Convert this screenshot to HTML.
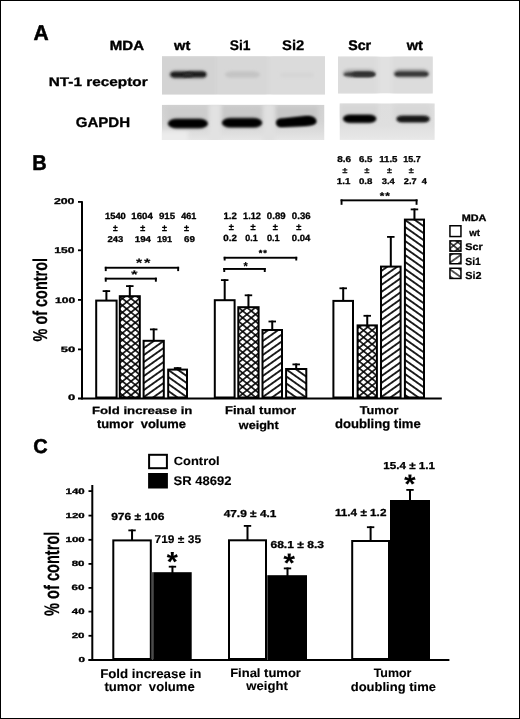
<!DOCTYPE html>
<html><head><meta charset="utf-8"><title>Figure</title>
<style>
html,body{margin:0;padding:0;background:#fff;}
svg{display:block;}
text{font-family:"Liberation Sans",Arial,sans-serif;font-weight:bold;fill:#000;stroke:#000;stroke-linejoin:round;white-space:pre;text-rendering:geometricPrecision;}
</style></head><body>
<svg width="520" height="719" viewBox="0 0 520 719">
<defs><pattern id="h1" patternUnits="userSpaceOnUse" width="40" height="5.362" patternTransform="translate(120.8 396.5) rotate(-39.007)"><rect x="0" y="0" width="40" height="0.775" fill="#000"/><rect x="0" y="4.587" width="40" height="0.775" fill="#000"/></pattern><pattern id="h2" patternUnits="userSpaceOnUse" width="40" height="5.362" patternTransform="translate(120.8 297.2) rotate(39.007)"><rect x="0" y="0" width="40" height="0.775" fill="#000"/><rect x="0" y="4.587" width="40" height="0.775" fill="#000"/></pattern><pattern id="h3" patternUnits="userSpaceOnUse" width="40" height="5.708" patternTransform="translate(144.6 396.5) rotate(-35.375)"><rect x="0" y="0" width="40" height="0.85" fill="#000"/><rect x="0" y="4.858" width="40" height="0.85" fill="#000"/></pattern><pattern id="h4" patternUnits="userSpaceOnUse" width="40" height="5.708" patternTransform="translate(169.2 370.6) rotate(35.375)"><rect x="0" y="0" width="40" height="0.85" fill="#000"/><rect x="0" y="4.858" width="40" height="0.85" fill="#000"/></pattern><pattern id="h5" patternUnits="userSpaceOnUse" width="40" height="5.362" patternTransform="translate(239.3 396.5) rotate(-39.007)"><rect x="0" y="0" width="40" height="0.775" fill="#000"/><rect x="0" y="4.587" width="40" height="0.775" fill="#000"/></pattern><pattern id="h6" patternUnits="userSpaceOnUse" width="40" height="5.362" patternTransform="translate(239.3 308.2) rotate(39.007)"><rect x="0" y="0" width="40" height="0.775" fill="#000"/><rect x="0" y="4.587" width="40" height="0.775" fill="#000"/></pattern><pattern id="h7" patternUnits="userSpaceOnUse" width="40" height="5.708" patternTransform="translate(263.5 396.5) rotate(-35.375)"><rect x="0" y="0" width="40" height="0.85" fill="#000"/><rect x="0" y="4.858" width="40" height="0.85" fill="#000"/></pattern><pattern id="h8" patternUnits="userSpaceOnUse" width="40" height="5.708" patternTransform="translate(287.1 370) rotate(35.375)"><rect x="0" y="0" width="40" height="0.85" fill="#000"/><rect x="0" y="4.858" width="40" height="0.85" fill="#000"/></pattern><pattern id="h9" patternUnits="userSpaceOnUse" width="40" height="5.362" patternTransform="translate(358.6 396.5) rotate(-39.007)"><rect x="0" y="0" width="40" height="0.775" fill="#000"/><rect x="0" y="4.587" width="40" height="0.775" fill="#000"/></pattern><pattern id="h10" patternUnits="userSpaceOnUse" width="40" height="5.362" patternTransform="translate(358.6 326.4) rotate(39.007)"><rect x="0" y="0" width="40" height="0.775" fill="#000"/><rect x="0" y="4.587" width="40" height="0.775" fill="#000"/></pattern><pattern id="h11" patternUnits="userSpaceOnUse" width="40" height="5.708" patternTransform="translate(382 396.5) rotate(-35.375)"><rect x="0" y="0" width="40" height="0.85" fill="#000"/><rect x="0" y="4.858" width="40" height="0.85" fill="#000"/></pattern><pattern id="h12" patternUnits="userSpaceOnUse" width="40" height="5.708" patternTransform="translate(405.9 220.6) rotate(35.375)"><rect x="0" y="0" width="40" height="0.85" fill="#000"/><rect x="0" y="4.858" width="40" height="0.85" fill="#000"/></pattern><pattern id="h13" patternUnits="userSpaceOnUse" width="40" height="5.362" patternTransform="translate(453.5 245.6) rotate(-39.007)"><rect x="0" y="0" width="40" height="0.65" fill="#000"/><rect x="0" y="4.712" width="40" height="0.65" fill="#000"/></pattern><pattern id="h14" patternUnits="userSpaceOnUse" width="40" height="5.362" patternTransform="translate(453.5 245.6) rotate(39.007)"><rect x="0" y="0" width="40" height="0.65" fill="#000"/><rect x="0" y="4.712" width="40" height="0.65" fill="#000"/></pattern><pattern id="h15" patternUnits="userSpaceOnUse" width="40" height="5.708" patternTransform="translate(455.6 258.6) rotate(-35.375)"><rect x="0" y="0" width="40" height="0.65" fill="#000"/><rect x="0" y="5.058" width="40" height="0.65" fill="#000"/></pattern><pattern id="h16" patternUnits="userSpaceOnUse" width="40" height="5.708" patternTransform="translate(455.6 273.4) rotate(35.375)"><rect x="0" y="0" width="40" height="0.65" fill="#000"/><rect x="0" y="5.058" width="40" height="0.65" fill="#000"/></pattern></defs>
<rect x="0" y="0" width="520" height="719" fill="#fff"/>
<defs>
 <filter id="bl1" x="-30%" y="-100%" width="160%" height="300%"><feGaussianBlur stdDeviation="1.1"/></filter>
 <filter id="bl2" x="-30%" y="-100%" width="160%" height="300%"><feGaussianBlur stdDeviation="0.65"/></filter>
 <filter id="bl3" x="-30%" y="-100%" width="160%" height="300%"><feGaussianBlur stdDeviation="2.2"/></filter>
 <filter id="bl4" x="-30%" y="-100%" width="160%" height="300%"><feGaussianBlur stdDeviation="1.7"/></filter>
 <filter id="bl5" x="-30%" y="-100%" width="160%" height="300%"><feGaussianBlur stdDeviation="0.85"/></filter>
 <linearGradient id="gg1" x1="0" y1="0" x2="0" y2="1">
   <stop offset="0" stop-color="#d2d2d2"/><stop offset="0.45" stop-color="#d4d4d4"/><stop offset="0.75" stop-color="#dcdcdc"/><stop offset="1" stop-color="#e6e6e6"/>
 </linearGradient>
 <linearGradient id="gg2" x1="0" y1="0" x2="0" y2="1">
   <stop offset="0" stop-color="#dedede"/><stop offset="0.6" stop-color="#dfdfdf"/><stop offset="1" stop-color="#e8e8e8"/>
 </linearGradient>
 <clipPath id="cb1"><rect x="162" y="56.3" width="163" height="38.2"/></clipPath>
 <clipPath id="cb2"><rect x="338" y="56.4" width="94.8" height="37.2"/></clipPath>
 <clipPath id="cb3"><rect x="161.8" y="104.7" width="162.7" height="35.3"/></clipPath>
 <clipPath id="cb4"><rect x="339.5" y="103.3" width="95.3" height="36.6"/></clipPath>
</defs>
<g clip-path="url(#cb1)">
<rect x="162" y="56.3" width="163" height="38.2" fill="#d9d9d9"/>
<rect x="158" y="54" width="60" height="45" fill="#d3d3d3" filter="url(#bl3)"/>
<rect x="218" y="54" width="50" height="45" fill="#d7d7d7" filter="url(#bl3)"/>
<rect x="270" y="54" width="58" height="45" fill="#dbdbdb" filter="url(#bl3)"/>
<path d="M176,70.1 H200.5 A7,4.5 0 0 1 200.5,79.1 H176 A7,4.5 0 0 1 176,70.1 Z" fill="#a0a0a0" filter="url(#bl4)"/>
<path d="M174.5,71.8 H185 A4,2.8 0 0 1 185,77.4 H174.5 A4,2.8 0 0 1 174.5,71.8 Z" fill="#1a1a1a" filter="url(#bl1)"/>
<path d="M190,71.6 H202.2 A4,2.8 0 0 1 202.2,77.2 H190 A4,2.8 0 0 1 190,71.6 Z" fill="#1a1a1a" filter="url(#bl1)"/>
<path d="M186,72.6 H190 A3,2.2 0 0 1 190,77 H186 A3,2.2 0 0 1 186,72.6 Z" fill="#2a2a2a" filter="url(#bl1)"/>
<path d="M232,71.35 H253 A7,3.25 0 0 1 253,77.85 H232 A7,3.25 0 0 1 232,71.35 Z" fill="#c4c4c4" filter="url(#bl4)"/>
<path d="M285,72.25 H309 A5,2.75 0 0 1 309,77.75 H285 A5,2.75 0 0 1 285,72.25 Z" fill="#d6d6d6" filter="url(#bl4)"/>
</g>
<g clip-path="url(#cb2)">
<rect x="338" y="56.4" width="94.8" height="37.2" fill="#e1e1e1"/>
<rect x="336" y="54" width="42" height="42" fill="#dbdbdb" filter="url(#bl3)"/>
<rect x="392" y="54" width="42" height="42" fill="#dcdcdc" filter="url(#bl3)"/>
<path d="M350.5,68.95 H368 A8,4.25 0 0 1 368,77.45 H350.5 A8,4.25 0 0 1 350.5,68.95 Z" fill="#b0b0b0" filter="url(#bl4)"/>
<path d="M351.5,72.1 H367.5 A8,2.3 0 0 1 367.5,76.7 H351.5 A8,2.3 0 0 1 351.5,72.1 Z" fill="#404040" filter="url(#bl1)"/>
<path d="M357,71.7 H370 A5,2.5 0 0 1 370,76.7 H357 A5,2.5 0 0 1 357,71.7 Z" fill="#303030" filter="url(#bl1)"/>
<path d="M400.5,68.95 H422 A7,4.25 0 0 1 422,77.45 H400.5 A7,4.25 0 0 1 400.5,68.95 Z" fill="#a0a0a0" filter="url(#bl4)"/>
<path d="M399.5,71.4 H423.5 A5,2.6 0 0 1 423.5,76.6 H399.5 A5,2.6 0 0 1 399.5,71.4 Z" fill="#363636" filter="url(#bl1)"/>
</g>
<g clip-path="url(#cb3)">
<rect x="161.8" y="104.7" width="162.7" height="35.3" fill="url(#gg1)"/>
<rect x="166" y="106" width="44" height="14" fill="#cdcdcd" filter="url(#bl3)"/>
<rect x="220" y="106" width="44" height="14" fill="#c8c8c8" filter="url(#bl3)"/>
<rect x="274" y="106" width="44" height="14" fill="#c6c6c6" filter="url(#bl3)"/>
<rect x="209" y="103" width="12" height="40" fill="#e2e2e2" filter="url(#bl3)"/>
<rect x="263" y="103" width="12" height="40" fill="#e0e0e0" filter="url(#bl3)"/>
<rect x="158" y="131" width="30" height="14" fill="#ececec" filter="url(#bl3)"/>
<path d="M176.8,118.15 H199 A9,5.25 0 0 1 199,128.65 H176.8 A9,5.25 0 0 1 176.8,118.15 Z" fill="#707070" filter="url(#bl4)"/>
<path d="M230.8,117.55 H253.3 A9,5.25 0 0 1 253.3,128.05 H230.8 A9,5.25 0 0 1 230.8,117.55 Z" fill="#707070" filter="url(#bl4)"/>
<path d="M176.3,119.2 H199.5 A8,4.3 0 0 1 199.5,127.8 H176.3 A8,4.3 0 0 1 176.3,119.2 Z" fill="#000" filter="url(#bl5)"/>
<path d="M230.3,118.5 H253.8 A8,4.3 0 0 1 253.8,127.1 H230.3 A8,4.3 0 0 1 230.3,118.5 Z" fill="#000" filter="url(#bl5)"/>
<path d="M276.3,122.9 C276.3,119.6 279,118.8 283,118.6 L306,116.0 C313,115.6 316.6,118.5 316.3,121.8 C316,124.6 311,125.7 305,125.9 L283,127.0 C279,127.1 276.3,126 276.3,122.9 Z" fill="#707070" filter="url(#bl4)"/>
<path d="M276.3,122.9 C276.3,119.6 279,118.8 283,118.6 L306,116.0 C313,115.6 316.6,118.5 316.3,121.8 C316,124.6 311,125.7 305,125.9 L283,127.0 C279,127.1 276.3,126 276.3,122.9 Z" fill="#000" filter="url(#bl5)"/>
</g>
<g clip-path="url(#cb4)">
<rect x="339.5" y="103.3" width="95.3" height="36.6" fill="url(#gg2)"/>
<rect x="340" y="104" width="38" height="16" fill="#d6d6d6" filter="url(#bl3)"/>
<rect x="393" y="104" width="38" height="16" fill="#d8d8d8" filter="url(#bl3)"/>
<path d="M350.8,114.3 H368.5 A8,4.5 0 0 1 368.5,123.3 H350.8 A8,4.5 0 0 1 350.8,114.3 Z" fill="#808080" filter="url(#bl4)"/>
<path d="M403.2,115.1 H422.9 A7,3.9 0 0 1 422.9,122.9 H403.2 A7,3.9 0 0 1 403.2,115.1 Z" fill="#8a8a8a" filter="url(#bl4)"/>
<path d="M350.3,115 H369 A7,3.8 0 0 1 369,122.6 H350.3 A7,3.8 0 0 1 350.3,115 Z" fill="#000" filter="url(#bl5)"/>
<path d="M402.7,115.9 H423.4 A6,3.1 0 0 1 423.4,122.1 H402.7 A6,3.1 0 0 1 402.7,115.9 Z" fill="#151515" filter="url(#bl5)"/>
</g>
<rect x="81" y="201.2" width="2" height="198.3" fill="#000"/>
<rect x="78" y="201" width="4" height="1.8" fill="#000"/>
<rect x="78" y="249.4" width="4" height="1.8" fill="#000"/>
<rect x="78" y="299" width="4" height="1.8" fill="#000"/>
<rect x="78" y="348.5" width="4" height="1.8" fill="#000"/>
<rect x="78" y="397.5" width="363.8" height="2" fill="#000"/>
<rect x="105.4" y="290.2" width="2" height="10.4" fill="#000"/>
<rect x="102.65" y="290.2" width="7.5" height="1.8" fill="#000"/>
<rect x="96.2" y="300.6" width="20.4" height="96.9" fill="#fff" stroke="#000" stroke-width="2.0"/>
<rect x="128.8" y="285.2" width="2" height="11" fill="#000"/>
<rect x="126.05" y="285.2" width="7.5" height="1.8" fill="#000"/>
<rect x="119.8" y="296.2" width="20" height="101.3" fill="#fff"/>
<rect x="119.8" y="296.2" width="20" height="101.3" fill="url(#h1)"/>
<rect x="119.8" y="296.2" width="20" height="101.3" fill="url(#h2)"/>
<rect x="119.8" y="296.2" width="20" height="101.3" fill="none" stroke="#000" stroke-width="2.0"/>
<rect x="152.7" y="328.5" width="2" height="12.3" fill="#000"/>
<rect x="149.95" y="328.5" width="7.5" height="1.8" fill="#000"/>
<rect x="143.6" y="340.8" width="20.2" height="56.7" fill="#fff"/>
<rect x="143.6" y="340.8" width="20.2" height="56.7" fill="url(#h3)"/>
<rect x="143.6" y="340.8" width="20.2" height="56.7" fill="none" stroke="#000" stroke-width="2.0"/>
<rect x="176.6" y="367.2" width="2" height="2.4" fill="#000"/>
<rect x="173.85" y="367.2" width="7.5" height="1.8" fill="#000"/>
<rect x="168.2" y="369.6" width="18.8" height="27.9" fill="#fff"/>
<rect x="168.2" y="369.6" width="18.8" height="27.9" fill="url(#h4)"/>
<rect x="168.2" y="369.6" width="18.8" height="27.9" fill="none" stroke="#000" stroke-width="2.0"/>
<rect x="223.7" y="279.2" width="2" height="21" fill="#000"/>
<rect x="220.95" y="279.2" width="7.5" height="1.8" fill="#000"/>
<rect x="214.8" y="300.2" width="19.8" height="97.3" fill="#fff" stroke="#000" stroke-width="2.0"/>
<rect x="247.45" y="294.4" width="2" height="12.8" fill="#000"/>
<rect x="244.7" y="294.4" width="7.5" height="1.8" fill="#000"/>
<rect x="238.3" y="307.2" width="20.3" height="90.3" fill="#fff"/>
<rect x="238.3" y="307.2" width="20.3" height="90.3" fill="url(#h5)"/>
<rect x="238.3" y="307.2" width="20.3" height="90.3" fill="url(#h6)"/>
<rect x="238.3" y="307.2" width="20.3" height="90.3" fill="none" stroke="#000" stroke-width="2.0"/>
<rect x="271.25" y="320.6" width="2" height="9.4" fill="#000"/>
<rect x="268.5" y="320.6" width="7.5" height="1.8" fill="#000"/>
<rect x="262.5" y="330" width="19.5" height="67.5" fill="#fff"/>
<rect x="262.5" y="330" width="19.5" height="67.5" fill="url(#h7)"/>
<rect x="262.5" y="330" width="19.5" height="67.5" fill="none" stroke="#000" stroke-width="2.0"/>
<rect x="295.2" y="363.5" width="2" height="5.5" fill="#000"/>
<rect x="292.45" y="363.5" width="7.5" height="1.8" fill="#000"/>
<rect x="286.1" y="369" width="20.2" height="28.5" fill="#fff"/>
<rect x="286.1" y="369" width="20.2" height="28.5" fill="url(#h8)"/>
<rect x="286.1" y="369" width="20.2" height="28.5" fill="none" stroke="#000" stroke-width="2.0"/>
<rect x="342.2" y="287.4" width="2" height="13.5" fill="#000"/>
<rect x="339.45" y="287.4" width="7.5" height="1.8" fill="#000"/>
<rect x="333.4" y="300.9" width="19.6" height="96.6" fill="#fff" stroke="#000" stroke-width="2.0"/>
<rect x="366.25" y="314.9" width="2" height="10.5" fill="#000"/>
<rect x="363.5" y="314.9" width="7.5" height="1.8" fill="#000"/>
<rect x="357.6" y="325.4" width="19.3" height="72.1" fill="#fff"/>
<rect x="357.6" y="325.4" width="19.3" height="72.1" fill="url(#h9)"/>
<rect x="357.6" y="325.4" width="19.3" height="72.1" fill="url(#h10)"/>
<rect x="357.6" y="325.4" width="19.3" height="72.1" fill="none" stroke="#000" stroke-width="2.0"/>
<rect x="389.8" y="236" width="2" height="30.6" fill="#000"/>
<rect x="387.05" y="236" width="7.5" height="1.8" fill="#000"/>
<rect x="381" y="266.6" width="19.6" height="130.9" fill="#fff"/>
<rect x="381" y="266.6" width="19.6" height="130.9" fill="url(#h11)"/>
<rect x="381" y="266.6" width="19.6" height="130.9" fill="none" stroke="#000" stroke-width="2.0"/>
<rect x="413.45" y="208.5" width="2" height="11.1" fill="#000"/>
<rect x="410.7" y="208.5" width="7.5" height="1.8" fill="#000"/>
<rect x="404.9" y="219.6" width="19.1" height="177.9" fill="#fff"/>
<rect x="404.9" y="219.6" width="19.1" height="177.9" fill="url(#h12)"/>
<rect x="404.9" y="219.6" width="19.1" height="177.9" fill="none" stroke="#000" stroke-width="2.0"/>
<rect x="104.8" y="266.8" width="74.3" height="1.9" fill="#000"/>
<rect x="104.8" y="266.8" width="1.9" height="4.3" fill="#000"/>
<rect x="177.2" y="266.8" width="1.9" height="4.3" fill="#000"/>
<rect x="104.8" y="277.7" width="52" height="1.9" fill="#000"/>
<rect x="104.8" y="277.7" width="1.9" height="4" fill="#000"/>
<rect x="154.9" y="277.7" width="1.9" height="4" fill="#000"/>
<rect x="223.7" y="256.8" width="73.5" height="1.9" fill="#000"/>
<rect x="223.7" y="256.8" width="1.9" height="3.7" fill="#000"/>
<rect x="295.3" y="256.8" width="1.9" height="3.7" fill="#000"/>
<rect x="223.3" y="268" width="42.4" height="1.9" fill="#000"/>
<rect x="223.3" y="268" width="1.9" height="4" fill="#000"/>
<rect x="263.8" y="268" width="1.9" height="4" fill="#000"/>
<rect x="340.6" y="199.4" width="76.9" height="1.9" fill="#000"/>
<rect x="340.6" y="199.4" width="1.9" height="5.4" fill="#000"/>
<rect x="415.6" y="199.4" width="1.9" height="5.4" fill="#000"/>
<rect x="449.95" y="225.75" width="11" height="10.8" fill="#fff" stroke="#000" stroke-width="1.5"/>
<rect x="449.95" y="240.85" width="11" height="10.3" fill="#fff"/>
<rect x="449.95" y="240.85" width="11" height="10.3" fill="url(#h13)"/>
<rect x="449.95" y="240.85" width="11" height="10.3" fill="url(#h14)"/>
<rect x="449.95" y="240.85" width="11" height="10.3" fill="none" stroke="#000" stroke-width="1.5"/>
<rect x="449.95" y="253.85" width="11" height="9.9" fill="#fff"/>
<rect x="449.95" y="253.85" width="11" height="9.9" fill="url(#h15)"/>
<rect x="449.95" y="253.85" width="11" height="9.9" fill="none" stroke="#000" stroke-width="1.5"/>
<rect x="449.95" y="268.25" width="11" height="10.2" fill="#fff"/>
<rect x="449.95" y="268.25" width="11" height="10.2" fill="url(#h16)"/>
<rect x="449.95" y="268.25" width="11" height="10.2" fill="none" stroke="#000" stroke-width="1.5"/>
<rect x="91.3" y="485" width="2" height="176" fill="#000"/>
<rect x="88.5" y="490.2" width="3.8" height="1.8" fill="#000"/>
<rect x="88.5" y="514.7" width="3.8" height="1.8" fill="#000"/>
<rect x="88.5" y="538.9" width="3.8" height="1.8" fill="#000"/>
<rect x="88.5" y="563" width="3.8" height="1.8" fill="#000"/>
<rect x="88.5" y="587" width="3.8" height="1.8" fill="#000"/>
<rect x="88.5" y="610.7" width="3.8" height="1.8" fill="#000"/>
<rect x="88.5" y="634.9" width="3.8" height="1.8" fill="#000"/>
<rect x="88.3" y="659" width="361.1" height="2" fill="#000"/>
<rect x="131.05" y="529.5" width="2" height="10.9" fill="#000"/>
<rect x="128.35" y="529.5" width="7.4" height="1.8" fill="#000"/>
<rect x="113.3" y="540.4" width="37.5" height="118.6" fill="#fff" stroke="#000" stroke-width="2.0"/>
<rect x="171.45" y="565.8" width="2" height="7.4" fill="#000"/>
<rect x="168.75" y="565.8" width="7.4" height="1.8" fill="#000"/>
<rect x="154.2" y="573.2" width="36.5" height="85.8" fill="#000" stroke="#000" stroke-width="2.0"/>
<rect x="246.5" y="525" width="2" height="15.3" fill="#000"/>
<rect x="243.8" y="525" width="7.4" height="1.8" fill="#000"/>
<rect x="229" y="540.3" width="37" height="118.7" fill="#fff" stroke="#000" stroke-width="2.0"/>
<rect x="286.5" y="567.5" width="2" height="8.7" fill="#000"/>
<rect x="283.8" y="567.5" width="7.4" height="1.8" fill="#000"/>
<rect x="269" y="576.2" width="37" height="82.8" fill="#000" stroke="#000" stroke-width="2.0"/>
<rect x="369.6" y="526.3" width="2" height="14.7" fill="#000"/>
<rect x="366.9" y="526.3" width="7.4" height="1.8" fill="#000"/>
<rect x="352.2" y="541" width="36.8" height="118" fill="#fff" stroke="#000" stroke-width="2.0"/>
<rect x="409" y="489" width="2" height="12" fill="#000"/>
<rect x="406.3" y="489" width="7.4" height="1.8" fill="#000"/>
<rect x="391" y="501" width="38" height="158" fill="#000" stroke="#000" stroke-width="2.0"/>
<rect x="151.8" y="572.2" width="1.4" height="87.8" fill="#4a4a4a"/>
<rect x="267" y="575.2" width="1" height="84.8" fill="#4a4a4a"/>
<rect x="149.1" y="454.8" width="17.8" height="13.4" fill="#fff" stroke="#000" stroke-width="2"/>
<rect x="148.1" y="473" width="19.8" height="15.5" fill="#000"/>
<text font-size="21.304" stroke-width="0.5" transform="translate(33.518 40.05) scale(0.989 1)">A</text>
<text font-size="13.333" stroke-width="0.4" transform="translate(109.85 50.2) scale(1.125 1)">MDA</text>
<text font-size="13.485" stroke-width="0.4" transform="translate(174.1 50.165) scale(1.079 1)">wt</text>
<text font-size="13.904" stroke-width="0.25" transform="translate(229.709 50.236) scale(0.996 1)">Si1</text>
<text font-size="14.041" stroke-width="0.25" transform="translate(282.079 50.235) scale(1.058 1)">Si2</text>
<text font-size="13.944" stroke-width="0.4" transform="translate(348.172 50.361) scale(1.023 1)">Scr</text>
<text font-size="13.788" stroke-width="0.4" transform="translate(406.8 50.362) scale(1.055 1)">wt</text>
<text font-size="12.556" stroke-width="0.3" transform="translate(48.776 86.213) scale(1.222 1)">NT-1 receptor</text>
<text font-size="13.803" stroke-width="0.3" transform="translate(75.647 127.212) scale(1.093 1)">GAPDH</text>
<text font-size="21.304" stroke-width="0.5" transform="translate(32.35 170.45) scale(0.939 1)">B</text>
<text font-size="8.451" stroke-width="0.3" transform="translate(53.881 204.365) scale(1.457 1)">200</text>
<text font-size="8.451" stroke-width="0.3" transform="translate(54.328 253.465) scale(1.425 1)">150</text>
<text font-size="8.169" stroke-width="0.3" transform="translate(55.028 302.568) scale(1.474 1)">100</text>
<text font-size="7.746" stroke-width="0.3" transform="translate(60.658 351.773) scale(1.688 1)">50</text>
<text font-size="7.887" stroke-width="0.3" transform="translate(68.031 400.271) scale(1.646 1)">0</text>
<text font-size="20.068" stroke-width="0.25" transform="translate(47.474 341.509) rotate(-90) scale(0.722 1)">% of control</text>
<text font-size="9.014" stroke-width="0.3" transform="translate(104.987 219.16) scale(1.041 1)">1540</text>
<text font-size="9.014" stroke-width="0.3" transform="translate(131.269 219.16) scale(1.073 1)">1604</text>
<text font-size="9.014" stroke-width="0.3" transform="translate(158.963 219.16) scale(1.075 1)">915</text>
<text font-size="9.014" stroke-width="0.3" transform="translate(181.169 219.16) scale(1.007 1)">461</text>
<text font-size="8.871" stroke-width="0.3" transform="translate(113.081 230.85) scale(0.95 1)">±</text>
<text font-size="8.871" stroke-width="0.3" transform="translate(140.17 230.85) scale(1.017 1)">±</text>
<text font-size="8.871" stroke-width="0.3" transform="translate(162.07 230.85) scale(1.017 1)">±</text>
<text font-size="8.871" stroke-width="0.3" transform="translate(183.966 230.85) scale(1.039 1)">±</text>
<text font-size="8.451" stroke-width="0.3" transform="translate(107.567 241.865) scale(1.117 1)">243</text>
<text font-size="8.451" stroke-width="0.3" transform="translate(134.769 241.865) scale(1.146 1)">194</text>
<text font-size="8.451" stroke-width="0.3" transform="translate(156.899 241.865) scale(1.086 1)">191</text>
<text font-size="8.451" stroke-width="0.3" transform="translate(183.958 241.865) scale(1.16 1)">69</text>
<text font-size="9.429" stroke-width="0.3" transform="translate(223.473 218.65) scale(1.019 1)">1.2</text>
<text font-size="9.429" stroke-width="0.3" transform="translate(243.099 218.65) scale(0.975 1)">1.12</text>
<text font-size="9.296" stroke-width="0.3" transform="translate(266.865 218.557) scale(1.035 1)">0.89</text>
<text font-size="9.296" stroke-width="0.3" transform="translate(291.865 218.557) scale(1.035 1)">0.36</text>
<text font-size="8.871" stroke-width="0.3" transform="translate(228.766 230.15) scale(1.039 1)">±</text>
<text font-size="8.871" stroke-width="0.3" transform="translate(250.466 230.15) scale(1.039 1)">±</text>
<text font-size="8.871" stroke-width="0.3" transform="translate(272.666 230.15) scale(1.039 1)">±</text>
<text font-size="8.871" stroke-width="0.3" transform="translate(296.266 230.15) scale(1.039 1)">±</text>
<text font-size="9.014" stroke-width="0.3" transform="translate(223.259 241.06) scale(1.084 1)">0.2</text>
<text font-size="9.014" stroke-width="0.3" transform="translate(245.192 241.06) scale(0.992 1)">0.1</text>
<text font-size="9.014" stroke-width="0.3" transform="translate(266.88 241.06) scale(1.025 1)">0.1</text>
<text font-size="9.014" stroke-width="0.3" transform="translate(291.871 241.06) scale(1.051 1)">0.04</text>
<text font-size="8.451" stroke-width="0.3" transform="translate(337.15 162.265) scale(1.183 1)">8.6</text>
<text font-size="8.451" stroke-width="0.3" transform="translate(358.962 162.265) scale(1.147 1)">6.5</text>
<text font-size="8.571" stroke-width="0.3" transform="translate(379.17 162.264) scale(1.128 1)">11.5</text>
<text font-size="8.571" stroke-width="0.3" transform="translate(403.315 162.264) scale(1.04 1)">15.7</text>
<text font-size="7.903" stroke-width="0.3" transform="translate(342.474 173.35) scale(1.116 1)">±</text>
<text font-size="7.903" stroke-width="0.3" transform="translate(364.574 173.35) scale(1.116 1)">±</text>
<text font-size="7.903" stroke-width="0.3" transform="translate(387.074 173.35) scale(1.116 1)">±</text>
<text font-size="7.903" stroke-width="0.3" transform="translate(408.77 173.35) scale(1.141 1)">±</text>
<text font-size="8.406" stroke-width="0.3" transform="translate(336.868 184.45) scale(1.153 1)">1.1</text>
<text font-size="8.169" stroke-width="0.3" transform="translate(358.962 184.368) scale(1.187 1)">0.8</text>
<text font-size="8.169" stroke-width="0.3" transform="translate(381.768 184.368) scale(1.152 1)">3.4</text>
<text font-size="8.286" stroke-width="0.3" transform="translate(403.873 184.45) scale(1.115 1)">2.7</text>
<text font-size="8.406" stroke-width="0.3" transform="translate(421.865 184.45) scale(1.1 1)">4</text>
<text font-size="12.378" stroke-width="0.12" transform="translate(135.903 266.701) scale(1.271 1)">*</text>
<text font-size="12.378" stroke-width="0.12" transform="translate(144.095 266.701) scale(1.335 1)">*</text>
<text font-size="10.757" stroke-width="0.12" transform="translate(131.089 278.082) scale(1.585 1)">*</text>
<text font-size="8.919" stroke-width="0.3" transform="translate(258.658 256.204) scale(1.033 1)">*</text>
<text font-size="8.919" stroke-width="0.3" transform="translate(263.158 256.204) scale(1.033 1)">*</text>
<text font-size="11.568" stroke-width="0.12" transform="translate(243.55 269.642) scale(0.951 1)">*</text>
<text font-size="9.459" stroke-width="0.3" transform="translate(379.632 198.677) scale(1.252 1)">*</text>
<text font-size="9.459" stroke-width="0.3" transform="translate(385.232 198.677) scale(1.252 1)">*</text>
<text font-size="9.42" stroke-width="0.3" transform="translate(461.689 221.35) scale(1.154 1)">MDA</text>
<text font-size="9.545" stroke-width="0.3" transform="translate(469.15 235.655) scale(1.019 1)">wt</text>
<text font-size="9.859" stroke-width="0.3" transform="translate(465.227 250.251) scale(1.092 1)">Scr</text>
<text font-size="10.411" stroke-width="0.2" transform="translate(465.188 264.596) scale(1.001 1)">Si1</text>
<text font-size="10.411" stroke-width="0.2" transform="translate(465.175 279.196) scale(1.041 1)">Si2</text>
<text font-size="10.411" stroke-width="0.25" transform="translate(91.901 413.521) scale(1.268 1)">Fold increase in</text>
<text font-size="12.123" stroke-width="0.25" transform="translate(96.896 428.354) scale(1.068 1)">tumor  volume</text>
<text font-size="11.301" stroke-width="0.25" transform="translate(224.961 413.662) scale(1.156 1)">Final tumor</text>
<text font-size="11.559" stroke-width="0.25" transform="translate(238.825 428.648) scale(1.092 1)">weight</text>
<text font-size="11.357" stroke-width="0.25" transform="translate(359.798 413.761) scale(1.119 1)">Tumor</text>
<text font-size="12.634" stroke-width="0.25" transform="translate(335.002 428.422) scale(1.035 1)">doubling time</text>
<text font-size="20" stroke-width="0.5" transform="translate(33.25 452.55) scale(1 1)">C</text>
<text font-size="11.89" stroke-width="0.12" transform="translate(173.743 464.821) scale(1.087 1)">Control</text>
<text font-size="12.507" stroke-width="0.12" transform="translate(173.469 485.115) scale(1.042 1)">SR 48692</text>
<text font-size="8.169" stroke-width="0.3" transform="translate(65.562 494.168) scale(1.403 1)">140</text>
<text font-size="7.324" stroke-width="0.3" transform="translate(65.562 518.077) scale(1.565 1)">120</text>
<text font-size="7.324" stroke-width="0.3" transform="translate(65.562 541.977) scale(1.565 1)">100</text>
<text font-size="7.606" stroke-width="0.3" transform="translate(71.704 566.274) scale(1.517 1)">80</text>
<text font-size="7.746" stroke-width="0.3" transform="translate(71.584 590.373) scale(1.504 1)">60</text>
<text font-size="7.887" stroke-width="0.3" transform="translate(71.821 614.171) scale(1.449 1)">40</text>
<text font-size="7.606" stroke-width="0.3" transform="translate(71.704 638.174) scale(1.517 1)">20</text>
<text font-size="7.183" stroke-width="0.3" transform="translate(78.382 661.878) scale(1.629 1)">0</text>
<text font-size="21.027" stroke-width="0.25" transform="translate(58.765 616.013) rotate(-90) scale(0.695 1)">% of control</text>
<text font-size="10.282" stroke-width="0.3" transform="translate(111.169 520.047) scale(1.169 1)">976 ± 106</text>
<text font-size="11.239" stroke-width="0.12" transform="translate(154.48 542.528) scale(1.069 1)">719 ± 35</text>
<text font-size="27.514" stroke-width="0.12" transform="translate(166.776 571.144) scale(1.031 1)">*</text>
<text font-size="10.141" stroke-width="0.3" transform="translate(223.662 516.749) scale(1.173 1)">47.9 ± 4.1</text>
<text font-size="10.141" stroke-width="0.3" transform="translate(270.417 548.499) scale(1.192 1)">68.1 ± 8.3</text>
<text font-size="26.703" stroke-width="0.12" transform="translate(283.517 572.235) scale(1.097 1)">*</text>
<text font-size="10.286" stroke-width="0.3" transform="translate(334.944 516.1) scale(1.143 1)">11.4 ± 1.2</text>
<text font-size="10.143" stroke-width="0.3" transform="translate(383.249 469.449) scale(1.151 1)">15.4 ± 1.1</text>
<text font-size="26.703" stroke-width="0.12" transform="translate(404.371 493.085) scale(1.082 1)">*</text>
<text font-size="12.712" stroke-width="0.12" transform="translate(100.129 677.513) scale(1.046 1)">Fold increase in</text>
<text font-size="12.849" stroke-width="0.12" transform="translate(104.429 691.012) scale(1.022 1)">tumor  volume</text>
<text font-size="12.164" stroke-width="0.12" transform="translate(230.15 677.318) scale(1.069 1)">Final tumor</text>
<text font-size="12.452" stroke-width="0.12" transform="translate(246.36 690.325) scale(1.052 1)">weight</text>
<text font-size="12.114" stroke-width="0.12" transform="translate(373.636 677.119) scale(1.025 1)">Tumor</text>
<text font-size="12.344" stroke-width="0.12" transform="translate(350.74 691.048) scale(1.054 1)">doubling time</text>
<rect x="0.5" y="0.5" width="519" height="718" fill="none" stroke="#000" stroke-width="1"/>
</svg>
</body></html>
